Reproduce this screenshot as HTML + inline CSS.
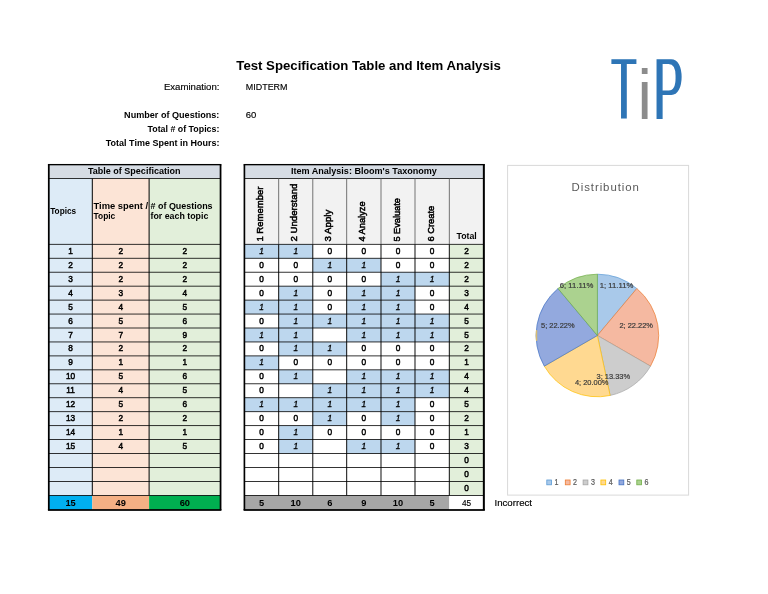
<!DOCTYPE html>
<html lang="en">
<head>
<meta charset="utf-8">
<title>Test Specification Table and Item Analysis</title>
<style>
html,body{margin:0;padding:0;background:#fff;}
body{width:768px;height:594px;overflow:hidden;}
svg{display:block;font-family:"Liberation Sans", sans-serif;}
</style>
</head>
<body>
<svg width="768" height="594" viewBox="0 0 768 594">
<text x="236.30" y="70.00" font-size="13.6" text-anchor="start" fill="#000" font-weight="bold" stroke="none" textLength="264.50" lengthAdjust="spacingAndGlyphs" >Test Specification Table and Item Analysis</text>
<text x="219.40" y="89.70" font-size="9.5" text-anchor="end" fill="#000" stroke="#000" stroke-width="0.15" textLength="55.50" lengthAdjust="spacingAndGlyphs" >Examination:</text>
<text x="219.40" y="118.40" font-size="9.5" text-anchor="end" fill="#000" font-weight="bold" stroke="none" textLength="95.30" lengthAdjust="spacingAndGlyphs" >Number of Questions:</text>
<text x="219.40" y="132.30" font-size="9.5" text-anchor="end" fill="#000" font-weight="bold" stroke="none" textLength="71.90" lengthAdjust="spacingAndGlyphs" >Total # of Topics:</text>
<text x="219.40" y="146.20" font-size="9.5" text-anchor="end" fill="#000" font-weight="bold" stroke="none" textLength="113.60" lengthAdjust="spacingAndGlyphs" >Total Time Spent in Hours:</text>
<text x="245.80" y="89.70" font-size="9.5" text-anchor="start" fill="#000" stroke="#000" stroke-width="0.15" textLength="41.70" lengthAdjust="spacingAndGlyphs" >MIDTERM</text>
<text x="245.80" y="118.40" font-size="9.5" text-anchor="start" fill="#000" stroke="#000" stroke-width="0.15" >60</text>
<rect x="48.80" y="164.65" width="171.75" height="13.85" fill="#D6DCE4" />
<rect x="48.80" y="178.50" width="43.50" height="316.90" fill="#DDEBF7" />
<rect x="92.30" y="178.50" width="56.80" height="316.90" fill="#FCE4D6" />
<rect x="149.10" y="178.50" width="71.45" height="316.90" fill="#E2EFDA" />
<rect x="48.80" y="495.40" width="43.50" height="14.60" fill="#00B0F0" />
<rect x="92.30" y="495.40" width="56.80" height="14.60" fill="#F4B084" />
<rect x="149.10" y="495.40" width="71.45" height="14.60" fill="#00B050" />
<rect x="48.80" y="178.10" width="171.75" height="0.80" fill="#000" />
<rect x="48.80" y="243.90" width="171.75" height="0.80" fill="#000" />
<rect x="48.80" y="257.85" width="171.75" height="0.80" fill="#000" />
<rect x="48.80" y="271.80" width="171.75" height="0.80" fill="#000" />
<rect x="48.80" y="285.75" width="171.75" height="0.80" fill="#000" />
<rect x="48.80" y="299.70" width="171.75" height="0.80" fill="#000" />
<rect x="48.80" y="313.65" width="171.75" height="0.80" fill="#000" />
<rect x="48.80" y="327.60" width="171.75" height="0.80" fill="#000" />
<rect x="48.80" y="341.55" width="171.75" height="0.80" fill="#000" />
<rect x="48.80" y="355.50" width="171.75" height="0.80" fill="#000" />
<rect x="48.80" y="369.45" width="171.75" height="0.80" fill="#000" />
<rect x="48.80" y="383.40" width="171.75" height="0.80" fill="#000" />
<rect x="48.80" y="397.35" width="171.75" height="0.80" fill="#000" />
<rect x="48.80" y="411.30" width="171.75" height="0.80" fill="#000" />
<rect x="48.80" y="425.25" width="171.75" height="0.80" fill="#000" />
<rect x="48.80" y="439.20" width="171.75" height="0.80" fill="#000" />
<rect x="48.80" y="453.15" width="171.75" height="0.80" fill="#000" />
<rect x="48.80" y="467.10" width="171.75" height="0.80" fill="#000" />
<rect x="48.80" y="481.05" width="171.75" height="0.80" fill="#000" />
<rect x="48.80" y="495.00" width="171.75" height="0.80" fill="#000" />
<rect x="91.80" y="178.50" width="1.00" height="316.90" fill="#000" />
<rect x="148.60" y="178.50" width="1.00" height="316.90" fill="#000" />
<rect x="47.92" y="163.97" width="173.50" height="1.35" fill="#000" />
<rect x="47.92" y="509.12" width="173.50" height="1.75" fill="#000" />
<rect x="47.92" y="164.65" width="1.75" height="345.35" fill="#000" />
<rect x="219.68" y="164.65" width="1.75" height="345.35" fill="#000" />
<text x="134.20" y="173.80" font-size="9.5" text-anchor="middle" fill="#000" font-weight="bold" stroke="none" textLength="92.60" lengthAdjust="spacingAndGlyphs" >Table of Specification</text>
<text x="50.20" y="213.50" font-size="9.5" text-anchor="start" fill="#000" font-weight="bold" stroke="none" textLength="26.00" lengthAdjust="spacingAndGlyphs" >Topics</text>
<text x="93.50" y="208.50" font-size="9.5" text-anchor="start" fill="#000" font-weight="bold" stroke="none" textLength="54.60" lengthAdjust="spacingAndGlyphs" >Time spent /</text>
<text x="93.50" y="218.50" font-size="9.5" text-anchor="start" fill="#000" font-weight="bold" stroke="none" textLength="21.80" lengthAdjust="spacingAndGlyphs" >Topic</text>
<text x="150.50" y="208.50" font-size="9.5" text-anchor="start" fill="#000" font-weight="bold" stroke="none" textLength="62.10" lengthAdjust="spacingAndGlyphs" ># of Questions</text>
<text x="150.50" y="218.50" font-size="9.5" text-anchor="start" fill="#000" font-weight="bold" stroke="none" textLength="57.80" lengthAdjust="spacingAndGlyphs" >for each topic</text>
<text transform="translate(70.55,253.80) scale(0.89,1)" font-size="9.3" text-anchor="middle" fill="#000" stroke="#000" stroke-width="0.5" >1</text>
<text transform="translate(120.70,253.80) scale(0.89,1)" font-size="9.3" text-anchor="middle" fill="#000" stroke="#000" stroke-width="0.5" >2</text>
<text transform="translate(184.82,253.80) scale(0.89,1)" font-size="9.3" text-anchor="middle" fill="#000" stroke="#000" stroke-width="0.5" >2</text>
<text transform="translate(70.55,267.75) scale(0.89,1)" font-size="9.3" text-anchor="middle" fill="#000" stroke="#000" stroke-width="0.5" >2</text>
<text transform="translate(120.70,267.75) scale(0.89,1)" font-size="9.3" text-anchor="middle" fill="#000" stroke="#000" stroke-width="0.5" >2</text>
<text transform="translate(184.82,267.75) scale(0.89,1)" font-size="9.3" text-anchor="middle" fill="#000" stroke="#000" stroke-width="0.5" >2</text>
<text transform="translate(70.55,281.70) scale(0.89,1)" font-size="9.3" text-anchor="middle" fill="#000" stroke="#000" stroke-width="0.5" >3</text>
<text transform="translate(120.70,281.70) scale(0.89,1)" font-size="9.3" text-anchor="middle" fill="#000" stroke="#000" stroke-width="0.5" >2</text>
<text transform="translate(184.82,281.70) scale(0.89,1)" font-size="9.3" text-anchor="middle" fill="#000" stroke="#000" stroke-width="0.5" >2</text>
<text transform="translate(70.55,295.65) scale(0.89,1)" font-size="9.3" text-anchor="middle" fill="#000" stroke="#000" stroke-width="0.5" >4</text>
<text transform="translate(120.70,295.65) scale(0.89,1)" font-size="9.3" text-anchor="middle" fill="#000" stroke="#000" stroke-width="0.5" >3</text>
<text transform="translate(184.82,295.65) scale(0.89,1)" font-size="9.3" text-anchor="middle" fill="#000" stroke="#000" stroke-width="0.5" >4</text>
<text transform="translate(70.55,309.60) scale(0.89,1)" font-size="9.3" text-anchor="middle" fill="#000" stroke="#000" stroke-width="0.5" >5</text>
<text transform="translate(120.70,309.60) scale(0.89,1)" font-size="9.3" text-anchor="middle" fill="#000" stroke="#000" stroke-width="0.5" >4</text>
<text transform="translate(184.82,309.60) scale(0.89,1)" font-size="9.3" text-anchor="middle" fill="#000" stroke="#000" stroke-width="0.5" >5</text>
<text transform="translate(70.55,323.55) scale(0.89,1)" font-size="9.3" text-anchor="middle" fill="#000" stroke="#000" stroke-width="0.5" >6</text>
<text transform="translate(120.70,323.55) scale(0.89,1)" font-size="9.3" text-anchor="middle" fill="#000" stroke="#000" stroke-width="0.5" >5</text>
<text transform="translate(184.82,323.55) scale(0.89,1)" font-size="9.3" text-anchor="middle" fill="#000" stroke="#000" stroke-width="0.5" >6</text>
<text transform="translate(70.55,337.50) scale(0.89,1)" font-size="9.3" text-anchor="middle" fill="#000" stroke="#000" stroke-width="0.5" >7</text>
<text transform="translate(120.70,337.50) scale(0.89,1)" font-size="9.3" text-anchor="middle" fill="#000" stroke="#000" stroke-width="0.5" >7</text>
<text transform="translate(184.82,337.50) scale(0.89,1)" font-size="9.3" text-anchor="middle" fill="#000" stroke="#000" stroke-width="0.5" >9</text>
<text transform="translate(70.55,351.45) scale(0.89,1)" font-size="9.3" text-anchor="middle" fill="#000" stroke="#000" stroke-width="0.5" >8</text>
<text transform="translate(120.70,351.45) scale(0.89,1)" font-size="9.3" text-anchor="middle" fill="#000" stroke="#000" stroke-width="0.5" >2</text>
<text transform="translate(184.82,351.45) scale(0.89,1)" font-size="9.3" text-anchor="middle" fill="#000" stroke="#000" stroke-width="0.5" >2</text>
<text transform="translate(70.55,365.40) scale(0.89,1)" font-size="9.3" text-anchor="middle" fill="#000" stroke="#000" stroke-width="0.5" >9</text>
<text transform="translate(120.70,365.40) scale(0.89,1)" font-size="9.3" text-anchor="middle" fill="#000" stroke="#000" stroke-width="0.5" >1</text>
<text transform="translate(184.82,365.40) scale(0.89,1)" font-size="9.3" text-anchor="middle" fill="#000" stroke="#000" stroke-width="0.5" >1</text>
<text transform="translate(70.55,379.35) scale(0.89,1)" font-size="9.3" text-anchor="middle" fill="#000" stroke="#000" stroke-width="0.5" >10</text>
<text transform="translate(120.70,379.35) scale(0.89,1)" font-size="9.3" text-anchor="middle" fill="#000" stroke="#000" stroke-width="0.5" >5</text>
<text transform="translate(184.82,379.35) scale(0.89,1)" font-size="9.3" text-anchor="middle" fill="#000" stroke="#000" stroke-width="0.5" >6</text>
<text transform="translate(70.55,393.30) scale(0.89,1)" font-size="9.3" text-anchor="middle" fill="#000" stroke="#000" stroke-width="0.5" >11</text>
<text transform="translate(120.70,393.30) scale(0.89,1)" font-size="9.3" text-anchor="middle" fill="#000" stroke="#000" stroke-width="0.5" >4</text>
<text transform="translate(184.82,393.30) scale(0.89,1)" font-size="9.3" text-anchor="middle" fill="#000" stroke="#000" stroke-width="0.5" >5</text>
<text transform="translate(70.55,407.25) scale(0.89,1)" font-size="9.3" text-anchor="middle" fill="#000" stroke="#000" stroke-width="0.5" >12</text>
<text transform="translate(120.70,407.25) scale(0.89,1)" font-size="9.3" text-anchor="middle" fill="#000" stroke="#000" stroke-width="0.5" >5</text>
<text transform="translate(184.82,407.25) scale(0.89,1)" font-size="9.3" text-anchor="middle" fill="#000" stroke="#000" stroke-width="0.5" >6</text>
<text transform="translate(70.55,421.20) scale(0.89,1)" font-size="9.3" text-anchor="middle" fill="#000" stroke="#000" stroke-width="0.5" >13</text>
<text transform="translate(120.70,421.20) scale(0.89,1)" font-size="9.3" text-anchor="middle" fill="#000" stroke="#000" stroke-width="0.5" >2</text>
<text transform="translate(184.82,421.20) scale(0.89,1)" font-size="9.3" text-anchor="middle" fill="#000" stroke="#000" stroke-width="0.5" >2</text>
<text transform="translate(70.55,435.15) scale(0.89,1)" font-size="9.3" text-anchor="middle" fill="#000" stroke="#000" stroke-width="0.5" >14</text>
<text transform="translate(120.70,435.15) scale(0.89,1)" font-size="9.3" text-anchor="middle" fill="#000" stroke="#000" stroke-width="0.5" >1</text>
<text transform="translate(184.82,435.15) scale(0.89,1)" font-size="9.3" text-anchor="middle" fill="#000" stroke="#000" stroke-width="0.5" >1</text>
<text transform="translate(70.55,449.10) scale(0.89,1)" font-size="9.3" text-anchor="middle" fill="#000" stroke="#000" stroke-width="0.5" >15</text>
<text transform="translate(120.70,449.10) scale(0.89,1)" font-size="9.3" text-anchor="middle" fill="#000" stroke="#000" stroke-width="0.5" >4</text>
<text transform="translate(184.82,449.10) scale(0.89,1)" font-size="9.3" text-anchor="middle" fill="#000" stroke="#000" stroke-width="0.5" >5</text>
<text transform="translate(70.55,505.90) scale(0.95,1)" font-size="9.8" text-anchor="middle" fill="#000" font-weight="bold" stroke="none" >15</text>
<text transform="translate(120.70,505.90) scale(0.95,1)" font-size="9.8" text-anchor="middle" fill="#000" font-weight="bold" stroke="none" >49</text>
<text transform="translate(184.82,505.90) scale(0.95,1)" font-size="9.8" text-anchor="middle" fill="#000" font-weight="bold" stroke="none" >60</text>
<rect x="244.40" y="164.65" width="239.45" height="13.85" fill="#D6DCE4" />
<rect x="244.40" y="178.50" width="239.45" height="65.80" fill="#F2F2F2" />
<rect x="244.40" y="244.30" width="239.45" height="251.10" fill="#FFFFFF" />
<rect x="449.30" y="244.30" width="34.55" height="251.10" fill="#E2EFDA" />
<rect x="244.40" y="495.40" width="204.90" height="14.60" fill="#A6A6A6" />
<rect x="449.30" y="495.40" width="34.55" height="14.60" fill="#FFFFFF" />
<rect x="244.40" y="244.30" width="34.30" height="13.95" fill="#BDD7EE" />
<rect x="278.70" y="244.30" width="34.10" height="13.95" fill="#BDD7EE" />
<rect x="312.80" y="258.25" width="33.90" height="13.95" fill="#BDD7EE" />
<rect x="346.70" y="258.25" width="34.30" height="13.95" fill="#BDD7EE" />
<rect x="381.00" y="272.20" width="34.00" height="13.95" fill="#BDD7EE" />
<rect x="415.00" y="272.20" width="34.30" height="13.95" fill="#BDD7EE" />
<rect x="278.70" y="286.15" width="34.10" height="13.95" fill="#BDD7EE" />
<rect x="346.70" y="286.15" width="34.30" height="13.95" fill="#BDD7EE" />
<rect x="381.00" y="286.15" width="34.00" height="13.95" fill="#BDD7EE" />
<rect x="244.40" y="300.10" width="34.30" height="13.95" fill="#BDD7EE" />
<rect x="278.70" y="300.10" width="34.10" height="13.95" fill="#BDD7EE" />
<rect x="346.70" y="300.10" width="34.30" height="13.95" fill="#BDD7EE" />
<rect x="381.00" y="300.10" width="34.00" height="13.95" fill="#BDD7EE" />
<rect x="278.70" y="314.05" width="34.10" height="13.95" fill="#BDD7EE" />
<rect x="312.80" y="314.05" width="33.90" height="13.95" fill="#BDD7EE" />
<rect x="346.70" y="314.05" width="34.30" height="13.95" fill="#BDD7EE" />
<rect x="381.00" y="314.05" width="34.00" height="13.95" fill="#BDD7EE" />
<rect x="415.00" y="314.05" width="34.30" height="13.95" fill="#BDD7EE" />
<rect x="244.40" y="328.00" width="34.30" height="13.95" fill="#BDD7EE" />
<rect x="278.70" y="328.00" width="34.10" height="13.95" fill="#BDD7EE" />
<rect x="346.70" y="328.00" width="34.30" height="13.95" fill="#BDD7EE" />
<rect x="381.00" y="328.00" width="34.00" height="13.95" fill="#BDD7EE" />
<rect x="415.00" y="328.00" width="34.30" height="13.95" fill="#BDD7EE" />
<rect x="278.70" y="341.95" width="34.10" height="13.95" fill="#BDD7EE" />
<rect x="312.80" y="341.95" width="33.90" height="13.95" fill="#BDD7EE" />
<rect x="244.40" y="355.90" width="34.30" height="13.95" fill="#BDD7EE" />
<rect x="278.70" y="369.85" width="34.10" height="13.95" fill="#BDD7EE" />
<rect x="346.70" y="369.85" width="34.30" height="13.95" fill="#BDD7EE" />
<rect x="381.00" y="369.85" width="34.00" height="13.95" fill="#BDD7EE" />
<rect x="415.00" y="369.85" width="34.30" height="13.95" fill="#BDD7EE" />
<rect x="312.80" y="383.80" width="33.90" height="13.95" fill="#BDD7EE" />
<rect x="346.70" y="383.80" width="34.30" height="13.95" fill="#BDD7EE" />
<rect x="381.00" y="383.80" width="34.00" height="13.95" fill="#BDD7EE" />
<rect x="415.00" y="383.80" width="34.30" height="13.95" fill="#BDD7EE" />
<rect x="244.40" y="397.75" width="34.30" height="13.95" fill="#BDD7EE" />
<rect x="278.70" y="397.75" width="34.10" height="13.95" fill="#BDD7EE" />
<rect x="312.80" y="397.75" width="33.90" height="13.95" fill="#BDD7EE" />
<rect x="346.70" y="397.75" width="34.30" height="13.95" fill="#BDD7EE" />
<rect x="381.00" y="397.75" width="34.00" height="13.95" fill="#BDD7EE" />
<rect x="312.80" y="411.70" width="33.90" height="13.95" fill="#BDD7EE" />
<rect x="381.00" y="411.70" width="34.00" height="13.95" fill="#BDD7EE" />
<rect x="278.70" y="425.65" width="34.10" height="13.95" fill="#BDD7EE" />
<rect x="278.70" y="439.60" width="34.10" height="13.95" fill="#BDD7EE" />
<rect x="346.70" y="439.60" width="34.30" height="13.95" fill="#BDD7EE" />
<rect x="381.00" y="439.60" width="34.00" height="13.95" fill="#BDD7EE" />
<rect x="244.40" y="178.10" width="239.45" height="0.80" fill="#000" />
<rect x="244.40" y="243.90" width="239.45" height="0.80" fill="#000" />
<rect x="244.40" y="257.85" width="239.45" height="0.80" fill="#000" />
<rect x="244.40" y="271.80" width="239.45" height="0.80" fill="#000" />
<rect x="244.40" y="285.75" width="239.45" height="0.80" fill="#000" />
<rect x="244.40" y="299.70" width="239.45" height="0.80" fill="#000" />
<rect x="244.40" y="313.65" width="239.45" height="0.80" fill="#000" />
<rect x="244.40" y="327.60" width="239.45" height="0.80" fill="#000" />
<rect x="244.40" y="341.55" width="239.45" height="0.80" fill="#000" />
<rect x="244.40" y="355.50" width="239.45" height="0.80" fill="#000" />
<rect x="244.40" y="369.45" width="239.45" height="0.80" fill="#000" />
<rect x="244.40" y="383.40" width="239.45" height="0.80" fill="#000" />
<rect x="244.40" y="397.35" width="239.45" height="0.80" fill="#000" />
<rect x="244.40" y="411.30" width="239.45" height="0.80" fill="#000" />
<rect x="244.40" y="425.25" width="239.45" height="0.80" fill="#000" />
<rect x="244.40" y="439.20" width="239.45" height="0.80" fill="#000" />
<rect x="244.40" y="453.15" width="239.45" height="0.80" fill="#000" />
<rect x="244.40" y="467.10" width="239.45" height="0.80" fill="#000" />
<rect x="244.40" y="481.05" width="239.45" height="0.80" fill="#000" />
<rect x="244.40" y="495.00" width="239.45" height="0.80" fill="#000" />
<rect x="278.25" y="178.50" width="0.90" height="65.80" fill="#666" />
<rect x="278.22" y="244.30" width="0.95" height="251.10" fill="#000" />
<rect x="312.35" y="178.50" width="0.90" height="65.80" fill="#666" />
<rect x="312.32" y="244.30" width="0.95" height="251.10" fill="#000" />
<rect x="346.25" y="178.50" width="0.90" height="65.80" fill="#666" />
<rect x="346.22" y="244.30" width="0.95" height="251.10" fill="#000" />
<rect x="380.55" y="178.50" width="0.90" height="65.80" fill="#666" />
<rect x="380.52" y="244.30" width="0.95" height="251.10" fill="#000" />
<rect x="414.55" y="178.50" width="0.90" height="65.80" fill="#666" />
<rect x="414.52" y="244.30" width="0.95" height="251.10" fill="#000" />
<rect x="448.85" y="178.50" width="0.90" height="65.80" fill="#666" />
<rect x="448.82" y="244.30" width="0.95" height="251.10" fill="#000" />
<rect x="243.58" y="163.97" width="241.28" height="1.35" fill="#000" />
<rect x="243.58" y="509.12" width="241.28" height="1.75" fill="#000" />
<rect x="243.58" y="164.65" width="1.65" height="345.35" fill="#000" />
<rect x="482.85" y="164.65" width="2.00" height="345.35" fill="#000" />
<text x="363.90" y="173.80" font-size="9.5" text-anchor="middle" fill="#000" font-weight="bold" stroke="none" textLength="146.00" lengthAdjust="spacingAndGlyphs" >Item Analysis: Bloom's Taxonomy</text>
<text x="0.00" y="0.00" font-size="9.5" text-anchor="start" fill="#000" stroke="#000" stroke-width="0.5" textLength="55.00" lengthAdjust="spacingAndGlyphs" transform="translate(263.15,241.6) rotate(-90)">1 Remember</text>
<text x="0.00" y="0.00" font-size="9.5" text-anchor="start" fill="#000" stroke="#000" stroke-width="0.5" textLength="58.00" lengthAdjust="spacingAndGlyphs" transform="translate(297.35,241.6) rotate(-90)">2 Understand</text>
<text x="0.00" y="0.00" font-size="9.5" text-anchor="start" fill="#000" stroke="#000" stroke-width="0.5" textLength="32.00" lengthAdjust="spacingAndGlyphs" transform="translate(331.35,241.6) rotate(-90)">3 Apply</text>
<text x="0.00" y="0.00" font-size="9.5" text-anchor="start" fill="#000" stroke="#000" stroke-width="0.5" textLength="40.20" lengthAdjust="spacingAndGlyphs" transform="translate(365.45,241.6) rotate(-90)">4 Analyze</text>
<text x="0.00" y="0.00" font-size="9.5" text-anchor="start" fill="#000" stroke="#000" stroke-width="0.5" textLength="43.50" lengthAdjust="spacingAndGlyphs" transform="translate(399.60,241.6) rotate(-90)">5 Evaluate</text>
<text x="0.00" y="0.00" font-size="9.5" text-anchor="start" fill="#000" stroke="#000" stroke-width="0.5" textLength="35.90" lengthAdjust="spacingAndGlyphs" transform="translate(433.75,241.6) rotate(-90)">6 Create</text>
<text x="466.58" y="239.40" font-size="9.5" text-anchor="middle" fill="#000" font-weight="bold" stroke="none" textLength="20.30" lengthAdjust="spacingAndGlyphs" >Total</text>
<text transform="translate(261.55,253.80) scale(0.9,1)" font-size="9.3" text-anchor="middle" fill="#000" font-style="italic" stroke="#000" stroke-width="0.3">1</text>
<text transform="translate(295.75,253.80) scale(0.9,1)" font-size="9.3" text-anchor="middle" fill="#000" font-style="italic" stroke="#000" stroke-width="0.3">1</text>
<text transform="translate(329.75,253.80) scale(0.89,1)" font-size="9.3" text-anchor="middle" fill="#000" stroke="#000" stroke-width="0.5" >0</text>
<text transform="translate(363.85,253.80) scale(0.89,1)" font-size="9.3" text-anchor="middle" fill="#000" stroke="#000" stroke-width="0.5" >0</text>
<text transform="translate(398.00,253.80) scale(0.89,1)" font-size="9.3" text-anchor="middle" fill="#000" stroke="#000" stroke-width="0.5" >0</text>
<text transform="translate(432.15,253.80) scale(0.89,1)" font-size="9.3" text-anchor="middle" fill="#000" stroke="#000" stroke-width="0.5" >0</text>
<text transform="translate(261.55,267.75) scale(0.89,1)" font-size="9.3" text-anchor="middle" fill="#000" stroke="#000" stroke-width="0.5" >0</text>
<text transform="translate(295.75,267.75) scale(0.89,1)" font-size="9.3" text-anchor="middle" fill="#000" stroke="#000" stroke-width="0.5" >0</text>
<text transform="translate(329.75,267.75) scale(0.9,1)" font-size="9.3" text-anchor="middle" fill="#000" font-style="italic" stroke="#000" stroke-width="0.3">1</text>
<text transform="translate(363.85,267.75) scale(0.9,1)" font-size="9.3" text-anchor="middle" fill="#000" font-style="italic" stroke="#000" stroke-width="0.3">1</text>
<text transform="translate(398.00,267.75) scale(0.89,1)" font-size="9.3" text-anchor="middle" fill="#000" stroke="#000" stroke-width="0.5" >0</text>
<text transform="translate(432.15,267.75) scale(0.89,1)" font-size="9.3" text-anchor="middle" fill="#000" stroke="#000" stroke-width="0.5" >0</text>
<text transform="translate(261.55,281.70) scale(0.89,1)" font-size="9.3" text-anchor="middle" fill="#000" stroke="#000" stroke-width="0.5" >0</text>
<text transform="translate(295.75,281.70) scale(0.89,1)" font-size="9.3" text-anchor="middle" fill="#000" stroke="#000" stroke-width="0.5" >0</text>
<text transform="translate(329.75,281.70) scale(0.89,1)" font-size="9.3" text-anchor="middle" fill="#000" stroke="#000" stroke-width="0.5" >0</text>
<text transform="translate(363.85,281.70) scale(0.89,1)" font-size="9.3" text-anchor="middle" fill="#000" stroke="#000" stroke-width="0.5" >0</text>
<text transform="translate(398.00,281.70) scale(0.9,1)" font-size="9.3" text-anchor="middle" fill="#000" font-style="italic" stroke="#000" stroke-width="0.3">1</text>
<text transform="translate(432.15,281.70) scale(0.9,1)" font-size="9.3" text-anchor="middle" fill="#000" font-style="italic" stroke="#000" stroke-width="0.3">1</text>
<text transform="translate(261.55,295.65) scale(0.89,1)" font-size="9.3" text-anchor="middle" fill="#000" stroke="#000" stroke-width="0.5" >0</text>
<text transform="translate(295.75,295.65) scale(0.9,1)" font-size="9.3" text-anchor="middle" fill="#000" font-style="italic" stroke="#000" stroke-width="0.3">1</text>
<text transform="translate(329.75,295.65) scale(0.89,1)" font-size="9.3" text-anchor="middle" fill="#000" stroke="#000" stroke-width="0.5" >0</text>
<text transform="translate(363.85,295.65) scale(0.9,1)" font-size="9.3" text-anchor="middle" fill="#000" font-style="italic" stroke="#000" stroke-width="0.3">1</text>
<text transform="translate(398.00,295.65) scale(0.9,1)" font-size="9.3" text-anchor="middle" fill="#000" font-style="italic" stroke="#000" stroke-width="0.3">1</text>
<text transform="translate(432.15,295.65) scale(0.89,1)" font-size="9.3" text-anchor="middle" fill="#000" stroke="#000" stroke-width="0.5" >0</text>
<text transform="translate(261.55,309.60) scale(0.9,1)" font-size="9.3" text-anchor="middle" fill="#000" font-style="italic" stroke="#000" stroke-width="0.3">1</text>
<text transform="translate(295.75,309.60) scale(0.9,1)" font-size="9.3" text-anchor="middle" fill="#000" font-style="italic" stroke="#000" stroke-width="0.3">1</text>
<text transform="translate(329.75,309.60) scale(0.89,1)" font-size="9.3" text-anchor="middle" fill="#000" stroke="#000" stroke-width="0.5" >0</text>
<text transform="translate(363.85,309.60) scale(0.9,1)" font-size="9.3" text-anchor="middle" fill="#000" font-style="italic" stroke="#000" stroke-width="0.3">1</text>
<text transform="translate(398.00,309.60) scale(0.9,1)" font-size="9.3" text-anchor="middle" fill="#000" font-style="italic" stroke="#000" stroke-width="0.3">1</text>
<text transform="translate(432.15,309.60) scale(0.89,1)" font-size="9.3" text-anchor="middle" fill="#000" stroke="#000" stroke-width="0.5" >0</text>
<text transform="translate(261.55,323.55) scale(0.89,1)" font-size="9.3" text-anchor="middle" fill="#000" stroke="#000" stroke-width="0.5" >0</text>
<text transform="translate(295.75,323.55) scale(0.9,1)" font-size="9.3" text-anchor="middle" fill="#000" font-style="italic" stroke="#000" stroke-width="0.3">1</text>
<text transform="translate(329.75,323.55) scale(0.9,1)" font-size="9.3" text-anchor="middle" fill="#000" font-style="italic" stroke="#000" stroke-width="0.3">1</text>
<text transform="translate(363.85,323.55) scale(0.9,1)" font-size="9.3" text-anchor="middle" fill="#000" font-style="italic" stroke="#000" stroke-width="0.3">1</text>
<text transform="translate(398.00,323.55) scale(0.9,1)" font-size="9.3" text-anchor="middle" fill="#000" font-style="italic" stroke="#000" stroke-width="0.3">1</text>
<text transform="translate(432.15,323.55) scale(0.9,1)" font-size="9.3" text-anchor="middle" fill="#000" font-style="italic" stroke="#000" stroke-width="0.3">1</text>
<text transform="translate(261.55,337.50) scale(0.9,1)" font-size="9.3" text-anchor="middle" fill="#000" font-style="italic" stroke="#000" stroke-width="0.3">1</text>
<text transform="translate(295.75,337.50) scale(0.9,1)" font-size="9.3" text-anchor="middle" fill="#000" font-style="italic" stroke="#000" stroke-width="0.3">1</text>
<text transform="translate(363.85,337.50) scale(0.9,1)" font-size="9.3" text-anchor="middle" fill="#000" font-style="italic" stroke="#000" stroke-width="0.3">1</text>
<text transform="translate(398.00,337.50) scale(0.9,1)" font-size="9.3" text-anchor="middle" fill="#000" font-style="italic" stroke="#000" stroke-width="0.3">1</text>
<text transform="translate(432.15,337.50) scale(0.9,1)" font-size="9.3" text-anchor="middle" fill="#000" font-style="italic" stroke="#000" stroke-width="0.3">1</text>
<text transform="translate(261.55,351.45) scale(0.89,1)" font-size="9.3" text-anchor="middle" fill="#000" stroke="#000" stroke-width="0.5" >0</text>
<text transform="translate(295.75,351.45) scale(0.9,1)" font-size="9.3" text-anchor="middle" fill="#000" font-style="italic" stroke="#000" stroke-width="0.3">1</text>
<text transform="translate(329.75,351.45) scale(0.9,1)" font-size="9.3" text-anchor="middle" fill="#000" font-style="italic" stroke="#000" stroke-width="0.3">1</text>
<text transform="translate(363.85,351.45) scale(0.89,1)" font-size="9.3" text-anchor="middle" fill="#000" stroke="#000" stroke-width="0.5" >0</text>
<text transform="translate(398.00,351.45) scale(0.89,1)" font-size="9.3" text-anchor="middle" fill="#000" stroke="#000" stroke-width="0.5" >0</text>
<text transform="translate(432.15,351.45) scale(0.89,1)" font-size="9.3" text-anchor="middle" fill="#000" stroke="#000" stroke-width="0.5" >0</text>
<text transform="translate(261.55,365.40) scale(0.9,1)" font-size="9.3" text-anchor="middle" fill="#000" font-style="italic" stroke="#000" stroke-width="0.3">1</text>
<text transform="translate(295.75,365.40) scale(0.89,1)" font-size="9.3" text-anchor="middle" fill="#000" stroke="#000" stroke-width="0.5" >0</text>
<text transform="translate(329.75,365.40) scale(0.89,1)" font-size="9.3" text-anchor="middle" fill="#000" stroke="#000" stroke-width="0.5" >0</text>
<text transform="translate(363.85,365.40) scale(0.89,1)" font-size="9.3" text-anchor="middle" fill="#000" stroke="#000" stroke-width="0.5" >0</text>
<text transform="translate(398.00,365.40) scale(0.89,1)" font-size="9.3" text-anchor="middle" fill="#000" stroke="#000" stroke-width="0.5" >0</text>
<text transform="translate(432.15,365.40) scale(0.89,1)" font-size="9.3" text-anchor="middle" fill="#000" stroke="#000" stroke-width="0.5" >0</text>
<text transform="translate(261.55,379.35) scale(0.89,1)" font-size="9.3" text-anchor="middle" fill="#000" stroke="#000" stroke-width="0.5" >0</text>
<text transform="translate(295.75,379.35) scale(0.9,1)" font-size="9.3" text-anchor="middle" fill="#000" font-style="italic" stroke="#000" stroke-width="0.3">1</text>
<text transform="translate(363.85,379.35) scale(0.9,1)" font-size="9.3" text-anchor="middle" fill="#000" font-style="italic" stroke="#000" stroke-width="0.3">1</text>
<text transform="translate(398.00,379.35) scale(0.9,1)" font-size="9.3" text-anchor="middle" fill="#000" font-style="italic" stroke="#000" stroke-width="0.3">1</text>
<text transform="translate(432.15,379.35) scale(0.9,1)" font-size="9.3" text-anchor="middle" fill="#000" font-style="italic" stroke="#000" stroke-width="0.3">1</text>
<text transform="translate(261.55,393.30) scale(0.89,1)" font-size="9.3" text-anchor="middle" fill="#000" stroke="#000" stroke-width="0.5" >0</text>
<text transform="translate(329.75,393.30) scale(0.9,1)" font-size="9.3" text-anchor="middle" fill="#000" font-style="italic" stroke="#000" stroke-width="0.3">1</text>
<text transform="translate(363.85,393.30) scale(0.9,1)" font-size="9.3" text-anchor="middle" fill="#000" font-style="italic" stroke="#000" stroke-width="0.3">1</text>
<text transform="translate(398.00,393.30) scale(0.9,1)" font-size="9.3" text-anchor="middle" fill="#000" font-style="italic" stroke="#000" stroke-width="0.3">1</text>
<text transform="translate(432.15,393.30) scale(0.9,1)" font-size="9.3" text-anchor="middle" fill="#000" font-style="italic" stroke="#000" stroke-width="0.3">1</text>
<text transform="translate(261.55,407.25) scale(0.9,1)" font-size="9.3" text-anchor="middle" fill="#000" font-style="italic" stroke="#000" stroke-width="0.3">1</text>
<text transform="translate(295.75,407.25) scale(0.9,1)" font-size="9.3" text-anchor="middle" fill="#000" font-style="italic" stroke="#000" stroke-width="0.3">1</text>
<text transform="translate(329.75,407.25) scale(0.9,1)" font-size="9.3" text-anchor="middle" fill="#000" font-style="italic" stroke="#000" stroke-width="0.3">1</text>
<text transform="translate(363.85,407.25) scale(0.9,1)" font-size="9.3" text-anchor="middle" fill="#000" font-style="italic" stroke="#000" stroke-width="0.3">1</text>
<text transform="translate(398.00,407.25) scale(0.9,1)" font-size="9.3" text-anchor="middle" fill="#000" font-style="italic" stroke="#000" stroke-width="0.3">1</text>
<text transform="translate(432.15,407.25) scale(0.89,1)" font-size="9.3" text-anchor="middle" fill="#000" stroke="#000" stroke-width="0.5" >0</text>
<text transform="translate(261.55,421.20) scale(0.89,1)" font-size="9.3" text-anchor="middle" fill="#000" stroke="#000" stroke-width="0.5" >0</text>
<text transform="translate(295.75,421.20) scale(0.89,1)" font-size="9.3" text-anchor="middle" fill="#000" stroke="#000" stroke-width="0.5" >0</text>
<text transform="translate(329.75,421.20) scale(0.9,1)" font-size="9.3" text-anchor="middle" fill="#000" font-style="italic" stroke="#000" stroke-width="0.3">1</text>
<text transform="translate(363.85,421.20) scale(0.89,1)" font-size="9.3" text-anchor="middle" fill="#000" stroke="#000" stroke-width="0.5" >0</text>
<text transform="translate(398.00,421.20) scale(0.9,1)" font-size="9.3" text-anchor="middle" fill="#000" font-style="italic" stroke="#000" stroke-width="0.3">1</text>
<text transform="translate(432.15,421.20) scale(0.89,1)" font-size="9.3" text-anchor="middle" fill="#000" stroke="#000" stroke-width="0.5" >0</text>
<text transform="translate(261.55,435.15) scale(0.89,1)" font-size="9.3" text-anchor="middle" fill="#000" stroke="#000" stroke-width="0.5" >0</text>
<text transform="translate(295.75,435.15) scale(0.9,1)" font-size="9.3" text-anchor="middle" fill="#000" font-style="italic" stroke="#000" stroke-width="0.3">1</text>
<text transform="translate(329.75,435.15) scale(0.89,1)" font-size="9.3" text-anchor="middle" fill="#000" stroke="#000" stroke-width="0.5" >0</text>
<text transform="translate(363.85,435.15) scale(0.89,1)" font-size="9.3" text-anchor="middle" fill="#000" stroke="#000" stroke-width="0.5" >0</text>
<text transform="translate(398.00,435.15) scale(0.89,1)" font-size="9.3" text-anchor="middle" fill="#000" stroke="#000" stroke-width="0.5" >0</text>
<text transform="translate(432.15,435.15) scale(0.89,1)" font-size="9.3" text-anchor="middle" fill="#000" stroke="#000" stroke-width="0.5" >0</text>
<text transform="translate(261.55,449.10) scale(0.89,1)" font-size="9.3" text-anchor="middle" fill="#000" stroke="#000" stroke-width="0.5" >0</text>
<text transform="translate(295.75,449.10) scale(0.9,1)" font-size="9.3" text-anchor="middle" fill="#000" font-style="italic" stroke="#000" stroke-width="0.3">1</text>
<text transform="translate(363.85,449.10) scale(0.9,1)" font-size="9.3" text-anchor="middle" fill="#000" font-style="italic" stroke="#000" stroke-width="0.3">1</text>
<text transform="translate(398.00,449.10) scale(0.9,1)" font-size="9.3" text-anchor="middle" fill="#000" font-style="italic" stroke="#000" stroke-width="0.3">1</text>
<text transform="translate(432.15,449.10) scale(0.89,1)" font-size="9.3" text-anchor="middle" fill="#000" stroke="#000" stroke-width="0.5" >0</text>
<text transform="translate(466.58,253.80) scale(0.89,1)" font-size="9.3" text-anchor="middle" fill="#000" stroke="#000" stroke-width="0.5" >2</text>
<text transform="translate(466.58,267.75) scale(0.89,1)" font-size="9.3" text-anchor="middle" fill="#000" stroke="#000" stroke-width="0.5" >2</text>
<text transform="translate(466.58,281.70) scale(0.89,1)" font-size="9.3" text-anchor="middle" fill="#000" stroke="#000" stroke-width="0.5" >2</text>
<text transform="translate(466.58,295.65) scale(0.89,1)" font-size="9.3" text-anchor="middle" fill="#000" stroke="#000" stroke-width="0.5" >3</text>
<text transform="translate(466.58,309.60) scale(0.89,1)" font-size="9.3" text-anchor="middle" fill="#000" stroke="#000" stroke-width="0.5" >4</text>
<text transform="translate(466.58,323.55) scale(0.89,1)" font-size="9.3" text-anchor="middle" fill="#000" stroke="#000" stroke-width="0.5" >5</text>
<text transform="translate(466.58,337.50) scale(0.89,1)" font-size="9.3" text-anchor="middle" fill="#000" stroke="#000" stroke-width="0.5" >5</text>
<text transform="translate(466.58,351.45) scale(0.89,1)" font-size="9.3" text-anchor="middle" fill="#000" stroke="#000" stroke-width="0.5" >2</text>
<text transform="translate(466.58,365.40) scale(0.89,1)" font-size="9.3" text-anchor="middle" fill="#000" stroke="#000" stroke-width="0.5" >1</text>
<text transform="translate(466.58,379.35) scale(0.89,1)" font-size="9.3" text-anchor="middle" fill="#000" stroke="#000" stroke-width="0.5" >4</text>
<text transform="translate(466.58,393.30) scale(0.89,1)" font-size="9.3" text-anchor="middle" fill="#000" stroke="#000" stroke-width="0.5" >4</text>
<text transform="translate(466.58,407.25) scale(0.89,1)" font-size="9.3" text-anchor="middle" fill="#000" stroke="#000" stroke-width="0.5" >5</text>
<text transform="translate(466.58,421.20) scale(0.89,1)" font-size="9.3" text-anchor="middle" fill="#000" stroke="#000" stroke-width="0.5" >2</text>
<text transform="translate(466.58,435.15) scale(0.89,1)" font-size="9.3" text-anchor="middle" fill="#000" stroke="#000" stroke-width="0.5" >1</text>
<text transform="translate(466.58,449.10) scale(0.89,1)" font-size="9.3" text-anchor="middle" fill="#000" stroke="#000" stroke-width="0.5" >3</text>
<text transform="translate(466.58,463.05) scale(0.89,1)" font-size="9.3" text-anchor="middle" fill="#000" stroke="#000" stroke-width="0.5" >0</text>
<text transform="translate(466.58,477.00) scale(0.89,1)" font-size="9.3" text-anchor="middle" fill="#000" stroke="#000" stroke-width="0.5" >0</text>
<text transform="translate(466.58,490.95) scale(0.89,1)" font-size="9.3" text-anchor="middle" fill="#000" stroke="#000" stroke-width="0.5" >0</text>
<text transform="translate(261.55,505.90) scale(0.95,1)" font-size="9.8" text-anchor="middle" fill="#000" font-weight="bold" stroke="none" >5</text>
<text transform="translate(295.75,505.90) scale(0.95,1)" font-size="9.8" text-anchor="middle" fill="#000" font-weight="bold" stroke="none" >10</text>
<text transform="translate(329.75,505.90) scale(0.95,1)" font-size="9.8" text-anchor="middle" fill="#000" font-weight="bold" stroke="none" >6</text>
<text transform="translate(363.85,505.90) scale(0.95,1)" font-size="9.8" text-anchor="middle" fill="#000" font-weight="bold" stroke="none" >9</text>
<text transform="translate(398.00,505.90) scale(0.95,1)" font-size="9.8" text-anchor="middle" fill="#000" font-weight="bold" stroke="none" >10</text>
<text transform="translate(432.15,505.90) scale(0.95,1)" font-size="9.8" text-anchor="middle" fill="#000" font-weight="bold" stroke="none" >5</text>
<text transform="translate(466.58,505.90) scale(0.89,1)" font-size="9.3" text-anchor="middle" fill="#000" stroke="#000" stroke-width="0.15" >45</text>
<text x="494.50" y="505.90" font-size="9.5" text-anchor="start" fill="#000" stroke="#000" stroke-width="0.15" textLength="37.50" lengthAdjust="spacingAndGlyphs" >Incorrect</text>
<rect x="507.60" y="165.40" width="181.00" height="329.70" fill="#fff" stroke="#D9D9D9" stroke-width="1"/>
<text x="571.5" y="190.7" font-size="11.4" fill="#595959" textLength="67.4" lengthAdjust="spacing">Distribution</text>
<path d="M597.40,335.50 L597.40,274.20 A61.3,61.3 0 0 1 636.80,288.54 Z" fill="#A9C9EA" stroke="#5B9BD5" stroke-width="0.7" stroke-linejoin="round"/>
<path d="M597.40,335.50 L636.80,288.54 A61.3,61.3 0 0 1 650.49,366.15 Z" fill="#F5B9A1" stroke="#ED7D31" stroke-width="0.7" stroke-linejoin="round"/>
<path d="M597.40,335.50 L650.49,366.15 A61.3,61.3 0 0 1 610.15,395.46 Z" fill="#CDCDCD" stroke="#A5A5A5" stroke-width="0.7" stroke-linejoin="round"/>
<path d="M597.40,335.50 L610.15,395.46 A61.3,61.3 0 0 1 544.31,366.15 Z" fill="#FFD991" stroke="#FFC000" stroke-width="0.7" stroke-linejoin="round"/>
<path d="M597.40,335.50 L544.31,366.15 A61.3,61.3 0 0 1 558.00,288.54 Z" fill="#93A9DE" stroke="#4472C4" stroke-width="0.7" stroke-linejoin="round"/>
<path d="M597.40,335.50 L558.00,288.54 A61.3,61.3 0 0 1 597.40,274.20 Z" fill="#ABD28F" stroke="#70AD47" stroke-width="0.7" stroke-linejoin="round"/>
<path d="M536.59,340.29 A61.0,61.0 0 0 1 536.59,330.71" fill="none" stroke="#D6BC74" stroke-width="1.5" stroke-linecap="round"/>
<text x="599.70" y="288.20" font-size="7.9" text-anchor="start" fill="#3A3A3A" textLength="33.60" lengthAdjust="spacingAndGlyphs" stroke="#3A3A3A" stroke-width="0.2">1; 11.11%</text>
<text x="559.80" y="288.20" font-size="7.9" text-anchor="start" fill="#3A3A3A" textLength="33.60" lengthAdjust="spacingAndGlyphs" stroke="#3A3A3A" stroke-width="0.2">6; 11.11%</text>
<text x="619.40" y="327.90" font-size="7.9" text-anchor="start" fill="#3A3A3A" textLength="33.60" lengthAdjust="spacingAndGlyphs" stroke="#3A3A3A" stroke-width="0.2">2; 22.22%</text>
<text x="541.00" y="327.90" font-size="7.9" text-anchor="start" fill="#3A3A3A" textLength="33.60" lengthAdjust="spacingAndGlyphs" stroke="#3A3A3A" stroke-width="0.2">5; 22.22%</text>
<text x="596.50" y="379.00" font-size="7.9" text-anchor="start" fill="#3A3A3A" textLength="33.60" lengthAdjust="spacingAndGlyphs" stroke="#3A3A3A" stroke-width="0.2">3; 13.33%</text>
<text x="574.90" y="385.20" font-size="7.9" text-anchor="start" fill="#3A3A3A" textLength="33.60" lengthAdjust="spacingAndGlyphs" stroke="#3A3A3A" stroke-width="0.2">4; 20.00%</text>
<rect x="546.80" y="480.00" width="4.80" height="4.80" fill="#A9C9EA" stroke="#5B9BD5" stroke-width="0.8"/>
<text transform="translate(554.60,485.20) scale(0.85,1)" font-size="8.4" text-anchor="start" fill="#595959" stroke="#595959" stroke-width="0.2">1</text>
<rect x="565.30" y="480.00" width="4.80" height="4.80" fill="#F5B9A1" stroke="#ED7D31" stroke-width="0.8"/>
<text transform="translate(573.10,485.20) scale(0.85,1)" font-size="8.4" text-anchor="start" fill="#595959" stroke="#595959" stroke-width="0.2">2</text>
<rect x="583.10" y="480.00" width="4.80" height="4.80" fill="#CDCDCD" stroke="#A5A5A5" stroke-width="0.8"/>
<text transform="translate(590.90,485.20) scale(0.85,1)" font-size="8.4" text-anchor="start" fill="#595959" stroke="#595959" stroke-width="0.2">3</text>
<rect x="600.90" y="480.00" width="4.80" height="4.80" fill="#FFD991" stroke="#FFC000" stroke-width="0.8"/>
<text transform="translate(608.70,485.20) scale(0.85,1)" font-size="8.4" text-anchor="start" fill="#595959" stroke="#595959" stroke-width="0.2">4</text>
<rect x="619.00" y="480.00" width="4.80" height="4.80" fill="#93A9DE" stroke="#4472C4" stroke-width="0.8"/>
<text transform="translate(626.80,485.20) scale(0.85,1)" font-size="8.4" text-anchor="start" fill="#595959" stroke="#595959" stroke-width="0.2">5</text>
<rect x="636.80" y="480.00" width="4.80" height="4.80" fill="#ABD28F" stroke="#70AD47" stroke-width="0.8"/>
<text transform="translate(644.60,485.20) scale(0.85,1)" font-size="8.4" text-anchor="start" fill="#595959" stroke="#595959" stroke-width="0.2">6</text>
<defs><filter id="thin" x="-10%" y="-10%" width="120%" height="120%"><feMorphology operator="dilate" radius="1 0" result="d"/><feMorphology in="d" operator="erode" radius="0 1"/></filter></defs>
<g font-weight="normal"><g filter="url(#thin)"><text font-size="88.95" transform="translate(611.38,120.2) scale(0.4573,1)" fill="#2E75B6">T</text></g><text font-size="70.2" transform="translate(637.4,118.7) scale(0.923,1)" fill="#8C8C8C">i</text><g filter="url(#thin)"><text font-size="88.95" transform="translate(653.94,120.2) scale(0.488,1)" fill="#2E75B6">P</text></g></g>
</svg>
</body>
</html>
